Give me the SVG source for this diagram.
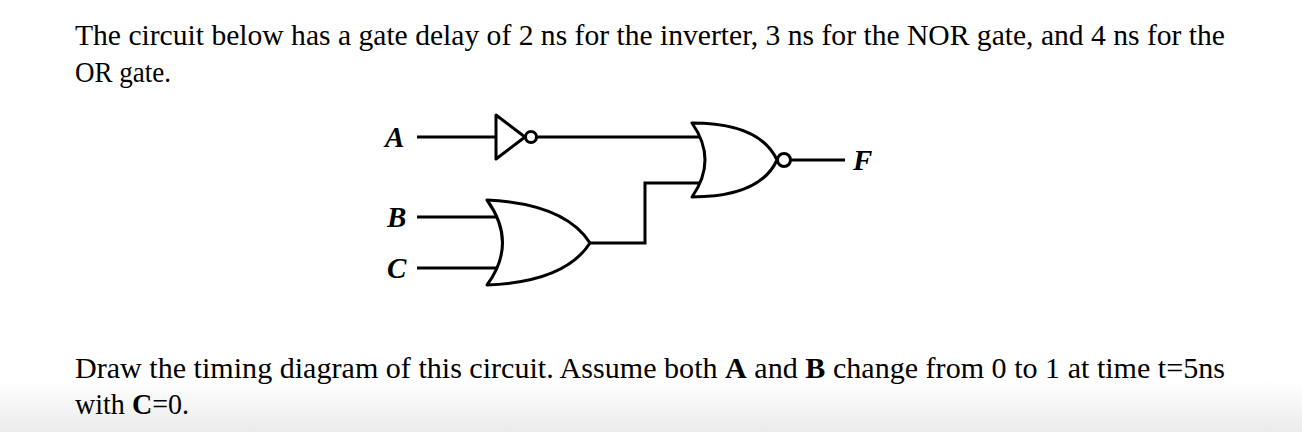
<svg xmlns="http://www.w3.org/2000/svg" width="1302" height="432" viewBox="0 0 1302 432">
<defs>
<style>
.t{font-family:"Liberation Serif",serif;font-size:29px;fill:#000}
.l{font-family:"Liberation Serif",serif;font-size:29px;font-weight:bold;font-style:italic;fill:#000}
.w{fill:none;stroke:#000;stroke-width:3}
.g{fill:#fff;stroke:#000;stroke-width:3;stroke-linejoin:round}
</style>
<linearGradient id="bg" x1="0" y1="0" x2="0" y2="1">
<stop offset="0" stop-color="#fff"/><stop offset="1" stop-color="#ebebeb"/>
</linearGradient>
</defs>
<rect width="1302" height="432" fill="#fff"/>
<rect y="380" width="1302" height="52" fill="url(#bg)"/>
<text class="t" x="75" y="45" textLength="1150" lengthAdjust="spacingAndGlyphs">The circuit below has a gate delay of 2 ns for the inverter, 3 ns for the NOR gate, and 4 ns for the</text>
<text class="t" x="75" y="82" textLength="96" lengthAdjust="spacingAndGlyphs">OR gate.</text>
<text class="t" x="75" y="378" textLength="1150" lengthAdjust="spacingAndGlyphs">Draw the timing diagram of this circuit. Assume both <tspan font-weight="bold">A</tspan> and <tspan font-weight="bold">B</tspan> change from 0 to 1 at time t=5ns</text>
<text class="t" x="75" y="414" textLength="114" lengthAdjust="spacingAndGlyphs">with <tspan font-weight="bold">C</tspan>=0.</text>
<g id="connectors">
<path class="w" d="M417 137H496 M537 137H707 M417 217H502 M417 268H503 M590 243H645V183H705 M790 160H845"/>
</g>
<g id="A"><text class="l" x="385" y="147">A</text></g>
<g id="B"><text class="l" x="387" y="227">B</text></g>
<g id="C"><text class="l" x="387" y="278">C</text></g>
<g id="F"><text class="l" x="853" y="170">F</text></g>
<g id="inverter">
<path class="g" d="M496 115L525 137L496 159Z"/>
<circle class="g" cx="531" cy="137" r="5.5"/>
</g>
<g id="nor">
<path class="g" d="M692 123Q760 123 777 160Q760 197 692 197Q718 160 692 123Z"/>
<circle class="g" cx="784" cy="160" r="6.5"/>
</g>
<g id="or">
<path class="g" d="M487 200Q565 204 590 243Q565 282 487 285Q518 243 487 200Z"/>
</g>
</svg>
